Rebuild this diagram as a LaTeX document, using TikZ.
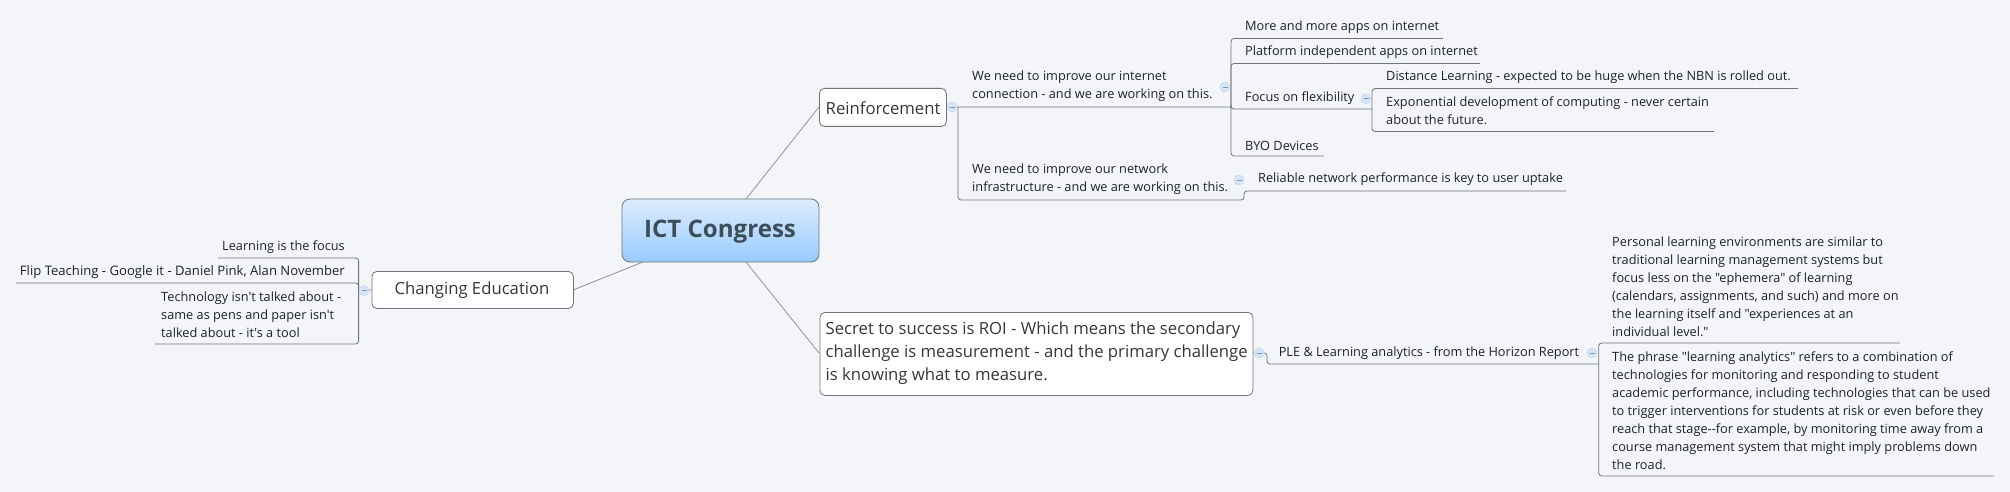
\documentclass[tikz,border=0pt]{standalone}
\usepackage{fontspec}
\newfontfamily\ofont{Open Sans}
\definecolor{bg}{HTML}{F3F5F9}
\definecolor{ln}{HTML}{6F747C}
\definecolor{cn}{HTML}{85898F}
\definecolor{tx}{HTML}{1E2226}
\definecolor{tx2}{HTML}{33383D}
\definecolor{tgf}{HTML}{D8E5F7}
\definecolor{tgd}{HTML}{BBD0EE}
\tikzset{
  topic/.style={draw=ln,fill=white,rounded corners=5pt,line width=.8pt,minimum height=#1,inner sep=0pt,anchor=north west},
  central/.style={draw=ln,rounded corners=8pt,line width=.8pt,top color=cTop,bottom color=cBot,inner sep=0pt,text=cTx},
  leaf/.style={anchor=west,inner sep=0pt,align=left,text=tx,font=\ofont\fontsize{12.75}{18}\selectfont},
  big/.style={font=\ofont\fontsize{16.7}{23}\selectfont,text=tx2,align=left},
  branch/.style={draw=ln,line width=.8pt,rounded corners=3pt},
  link/.style={draw=cn,line width=.7pt},
  toggle/.style={circle,fill=tgf,draw=tgd,line width=.4pt,minimum size=10pt,inner sep=0pt,
    path picture={\draw[tgd!70!black,line width=.6pt] (path picture bounding box.center)++(-2.5pt,0)--++(5pt,0);}}
}
\definecolor{cTop}{HTML}{DCEDFF}
\definecolor{cBot}{HTML}{98CBFF}
\definecolor{cTx}{HTML}{3E4D5A}
\begin{document}
\begin{tikzpicture}[x=1pt,y=-1pt]
\useasboundingbox[fill=bg] (0,0) rectangle (2010,492);
% junction coordinates
\coordinate (cA) at (746,199);
\coordinate (cB) at (746,262);
\coordinate (cC) at (643,262);
\coordinate (rIn) at (819,107);
\coordinate (sIn) at (819,353);
\coordinate (eIn) at (573,290);
\coordinate (jR) at (958,107);
\coordinate (jA) at (1231,107);
\coordinate (jAt) at (1231,38.5);
\coordinate (jAb) at (1231,156);
\coordinate (jP) at (1231,63.5);
\coordinate (jF) at (1231,109);
\coordinate (eMore) at (1443,38.5);
\coordinate (ePlat) at (1480,63.5);
\coordinate (eByo) at (1324,156);
\coordinate (jG) at (1372,109);
\coordinate (jGt) at (1372,88.5);
\coordinate (jGb) at (1372,131.5);
\coordinate (eDist) at (1798,88.5);
\coordinate (eExp) at (1714,131.5);
\coordinate (jRb) at (958,200);
\coordinate (jN) at (1244,200);
\coordinate (jNt) at (1244,191);
\coordinate (eRel) at (1566,191);
\coordinate (jL) at (358.6,290);
\coordinate (jLt) at (358.6,258);
\coordinate (jLb) at (358.6,344);
\coordinate (jLf) at (358.6,283);
\coordinate (eLearn) at (218,258);
\coordinate (eFlip) at (16,283);
\coordinate (eTech) at (155,344);
\coordinate (jS) at (1267,353);
\coordinate (jSb) at (1267,364);
\coordinate (jH) at (1598.7,364);
\coordinate (jHt) at (1598.7,343);
\coordinate (jHb) at (1598.7,476);
\coordinate (ePle) at (1900,343);
\coordinate (ePhr) at (1994,476);
% central and main topics
\draw[link] (cA) -- (rIn);
\draw[link] (cB) -- (sIn);
\draw[link] (cC) -- (eIn);
\node[central,minimum width=197pt,minimum height=63pt] (root) at (720.5,230.5) {};
\node[inner sep=0pt,text=cTx,font=\ofont\fontsize{24.1}{28}\selectfont\bfseries] (roott) at (720,231.5) {ICT Congress};
\node[topic=38pt,minimum width=127pt] (reinf) at (819,88) {};
\node[inner sep=0pt,font=\ofont\fontsize{16.7}{23}\selectfont,text=tx2,anchor=west] (reinft) at (825.5,108) {Reinforcement};
\node[topic=37pt,minimum width=201.5pt] (chg) at (371.5,271) {};
\node[inner sep=0pt,font=\ofont\fontsize{16.7}{23}\selectfont,text=tx2] (chgt) at (472,290) {Changing Education};
\node[topic=83pt,minimum width=433pt] (sec) at (819.5,312) {};
\node[big,anchor=west,inner sep=0pt] (sect) at (825.5,353.5) {Secret to success is ROI - Which means the secondary\\challenge is measurement - and the primary challenge\\is knowing what to measure.};
% branches
\draw[branch] (reinf.east) -- (jR) -- (jA);
\draw[branch] (eMore) -- (jAt) -- (jAb) -- (eByo);
\draw[branch] (ePlat) -- (jP) -- (jF);
\draw[branch] (jA) -- (jF) -- (jG);
\draw[branch] (eDist) -- (jGt) -- (jGb) -- (eExp);
\draw[branch] (jR) -- (jRb) -- (jN) -- (jNt) -- (eRel);
\draw[branch] (eLearn) -- (jLt) -- (jLb) -- (eTech);
\draw[branch] (eFlip) -- (jLf) -- (jL);
\draw[branch] (chg.west) -- (jL);
\draw[branch] (sec.east |- jS) -- (jS) -- (jSb) -- (jH);
\draw[branch] (ePle) -- (jHt) -- (jHb) -- (ePhr);
% toggles
\node[toggle] (t1) at (952,107) {};
\node[toggle] (t2) at (1225,87) {};
\node[toggle] (t3) at (1366,98.7) {};
\node[toggle] (t4) at (1239,180) {};
\node[toggle] (t5) at (364,290.7) {};
\node[toggle] (t6) at (1259,353) {};
\node[toggle] (t7) at (1592,353) {};
% leaves
\node[leaf] (a) at (972,86) {We need to improve our internet\\connection - and we are working on this.};
\node[leaf] (b) at (972,179) {We need to improve our network\\infrastructure - and we are working on this.};
\node[leaf] (c) at (1245,27) {More and more apps on internet};
\node[leaf] (d) at (1245,52) {Platform independent apps on internet};
\node[leaf] (e) at (1245,98.5) {Focus on flexibility};
\node[leaf] (f) at (1245,146) {BYO Devices};
\node[leaf] (g) at (1258,179) {Reliable network performance is key to user uptake};
\node[leaf] (h) at (1386,77) {Distance Learning - expected to be huge when the NBN is rolled out.};
\node[leaf] (i) at (1386,111) {Exponential development of computing - never certain\\about the future.};
\node[leaf,anchor=east] (j) at (345,247) {Learning is the focus};
\node[leaf,anchor=east,font=\ofont\fontsize{13.1}{18}\selectfont] (k) at (345,272) {Flip Teaching - Google it - Daniel Pink, Alan November};
\node[leaf] (l) at (161,315) {Technology isn't talked about -\\same as pens and paper isn't\\talked about - it's a tool};
\node[leaf] (m) at (1278.6,353) {PLE \& Learning analytics - from the Horizon Report};
\node[leaf] (n) at (1612,287) {Personal learning environments are similar to\\traditional learning management systems but\\focus less on the "ephemera" of learning\\(calendars, assignments, and such) and more on\\the learning itself and "experiences at an\\individual level."};
\node[leaf] (o) at (1612,410.5) {The phrase "learning analytics" refers to a combination of\\technologies for monitoring and responding to student\\academic performance, including technologies that can be used\\to trigger interventions for students at risk or even before they\\reach that stage--for example, by monitoring time away from a\\course management system that might imply problems down\\the road.};
\end{tikzpicture}
\end{document}
